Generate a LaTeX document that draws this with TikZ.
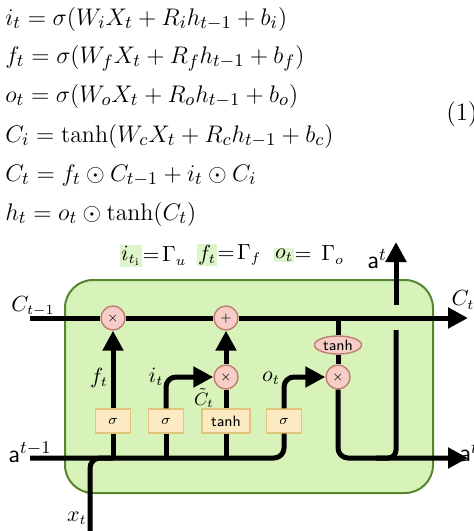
\documentclass[tikz,border=0pt]{standalone}
\usepackage{amsmath}
\usetikzlibrary{arrows.meta,shapes.geometric}

\definecolor{cellfill}{HTML}{D8F3BA}
\definecolor{cellline}{HTML}{55852F}
\definecolor{opfill}{HTML}{F7CDC8}
\definecolor{opline}{HTML}{BF7D72}
\definecolor{gatefill}{HTML}{FCEBC2}
\definecolor{gateline}{HTML}{E3C47C}
\definecolor{markfill}{HTML}{DDF5C8}

\tikzset{
  op/.style={circle,draw=opline,fill=opfill,line width=0.7pt,minimum size=12pt,inner sep=0pt,font=\sffamily\fontsize{6}{6}\selectfont},
  gatebox/.style={rectangle,draw=gateline,fill=gatefill,line width=0.7pt,minimum height=12pt,minimum width=17.5pt,inner sep=1pt,font=\sffamily\fontsize{7.5}{7.5}\selectfont},
  wire/.style={line width=2.5pt},
  flow/.style={wire,-{Triangle[length=10pt,width=10pt]}},
  eqline/.style={anchor=base west,inner sep=0pt,font=\fontsize{12.5}{15}\selectfont},
  lbl/.style={inner sep=0pt,font=\fontsize{10.5}{11}\selectfont},
  albl/.style={inner sep=0pt,font=\sffamily\fontsize{12.5}{13}\selectfont},
}

\begin{document}
\begin{tikzpicture}[x=0.5pt,y=-0.5pt]
		\useasboundingbox (0,0) rectangle (474,531);
		
		% equations
		\node[eqline] (eqi) at (5,25) {$i_t = \sigma(W_i X_t + R_i h_{t-1} + b_i)$};
		\node[eqline] (eqf) at (5,63) {$f_t = \sigma(W_f X_t + R_f h_{t-1} + b_f)$};
		\node[eqline] (eqo) at (5,102) {$o_t = \sigma(W_o X_t + R_o h_{t-1} + b_o)$};
		\node[eqline] (eqc) at (5,142) {$C_i = \tanh(W_c X_t + R_c h_{t-1} + b_c)$};
		\node[eqline] (eqs) at (5,181) {$C_t = f_t \odot C_{t-1} + i_t \odot C_i$};
		\node[eqline] (eqh) at (5,220) {$h_t = o_t \odot \tanh(C_t)$};
		\node[eqline] (eqnum) at (446,120) {(1)};
		
		% gate names
		\node[lbl,fill=markfill,inner sep=0.5pt] (gi) at (131,256) {$i_{t_{\mathrm{i}}}$};
		\node[lbl,anchor=west] (gu) at (gi.east) {$=\!\Gamma_u$};
		\node[lbl,fill=markfill,inner sep=0.5pt] (gf) at (207,255) {$f_t$};
		\node[lbl,anchor=west] (gff) at (gf.east) {$=\!\Gamma_f$};
		\node[lbl,fill=markfill,inner sep=0.5pt] (go) at (284,255) {$o_t$};
		\node[lbl,anchor=west] (goo) at (go.east) {$=\,\Gamma_o$};
		
		% cell
		\filldraw[fill=cellfill,draw=cellline,line width=1pt,rounded corners=14pt] (65,280) rectangle (433,493);
		
		\node[op] (fmul) at (113,318) {$\times$};
		\node[op] (add) at (226,318) {$+$};
		\node[op] (imul) at (226,377) {$\times$};
		\node[op] (omul) at (338,377) {$\times$};
		\node[ellipse,draw=opline,fill=opfill,line width=0.7pt,minimum width=23.5pt,minimum height=9pt,inner sep=0pt,font=\sffamily\fontsize{7.5}{7.5}\selectfont] (tanhc) at (338,345) {tanh};
		
		\node[gatebox] (fgate) at (113,421) {$\sigma$};
		\node[gatebox] (igate) at (166,421) {$\sigma$};
		\node[gatebox,minimum width=24pt] (cgate) at (226,421) {tanh};
		\node[gatebox] (ogate) at (284,421) {$\sigma$};
		
		\coordinate (cin) at (30,318);
		\coordinate (cout) at (468,318);
		\coordinate (ain) at (30,458);
		\coordinate (aout) at (468,458);
		\coordinate (xin) at (90,531);
		\coordinate (agap) at (396,330);
		\coordinate (atop) at (396,305);
		\coordinate (atip) at (396,242);
		
		% cell state
		\draw[wire] (cin) -- (fmul);
		\draw[wire] (fmul) -- (add);
		\draw[flow] (add) -- (cout);
		\draw[wire] (tanhc) -- (tanhc |- add);
		\draw[wire] (tanhc) -- (omul);
		
		% gates
		\draw[wire] (fgate) -- (fgate |- ain);
		\draw[flow] (fgate) -- (fmul);
		\draw[wire] (igate) -- (igate |- ain);
		\draw[flow,rounded corners=5pt] (igate) -- (igate |- imul) -- (imul);
		\draw[wire] (cgate) -- (cgate |- ain);
		\draw[wire] (cgate) -- (imul);
		\draw[flow] (imul) -- (add);
		\draw[wire,rounded corners=5pt] (ain) -- (ogate |- ain) -- (ogate);
		\draw[flow,rounded corners=5pt] (ogate) -- (ogate |- omul) -- (omul);
		\draw[wire,rounded corners=5pt] (xin) -- (xin |- ain) -- (fgate |- ain);
		
		% hidden state out
		\draw[flow,rounded corners=5pt] (omul) -- (omul |- ain) -- (aout);
		\draw[wire,rounded corners=4pt] (agap) -- (agap |- ain) -- ([xshift=-10]agap |- ain);
		\draw[flow] (atop) -- (atip);
		
		% labels
		\node[lbl] (lcin) at (33,306) {$C_{t-1}$};
		\node[lbl] (lcout) at (463,300) {$C_t$};
		\node[albl] (lain) at (30,452) {a$^{t-1}$};
		\node[albl,anchor=west] (laout) at (459,452) {a$^{t}$};
		\node[albl] (latop) at (377,259) {a$^{t}$};
		\node[lbl] (lx) at (77,518) {$x_t$};
		\node[lbl] (lf) at (99,378) {$f_t$};
		\node[lbl] (li) at (156,377) {$i_t$};
		\node[lbl] (lo) at (271,378) {$o_t$};
		\node[lbl,font=\fontsize{9}{10}\selectfont] (lct) at (204,398) {$\tilde{C}_t$};
		\end{tikzpicture}
\end{document}
